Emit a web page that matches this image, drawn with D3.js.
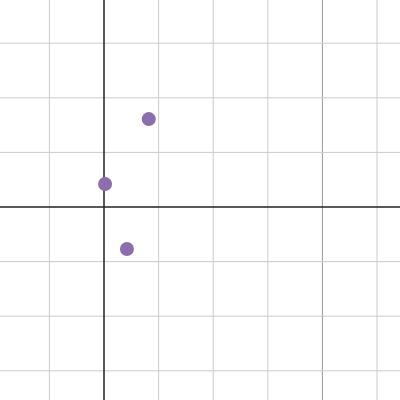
<!DOCTYPE html>
<html><head><meta charset="utf-8">
<script src="https://cdn.jsdelivr.net/npm/d3@7"></script>
<style>html,body{margin:0;padding:0;background:#fff}</style>
</head><body>
<svg id="c" width="400" height="400"></svg>
<script>
const xs = [0.82, 0.02, 0.42];
const ys = [1.61, 0.42, -0.77];
const gridX = [-1, 1, 2, 3, 4, 5];
const gridY = [-3, -2, -1, 1, 2, 3];
const majorX = [4];

const u = 54.6;
const x = d3.scaleLinear().domain([-104/u, 296/u]).range([0, 400]);
const y = d3.scaleLinear().domain([207/u, -193/u]).range([0, 400]);
const svg = d3.select("#c");

svg.selectAll(".gx").data(gridX).join("line")
  .attr("x1", d => x(d)).attr("x2", d => x(d)).attr("y1", 0).attr("y2", 400)
  .attr("stroke", d => majorX.includes(d) ? "#999" : "#ccc").attr("stroke-width", 1);
svg.selectAll(".gy").data(gridY).join("line")
  .attr("y1", d => y(d)).attr("y2", d => y(d)).attr("x1", 0).attr("x2", 400)
  .attr("stroke", "#ccc").attr("stroke-width", 1);

svg.append("line").attr("x1", x(0)).attr("x2", x(0)).attr("y1", 0).attr("y2", 400)
  .attr("stroke", "#222").attr("stroke-width", 1.5);
svg.append("line").attr("y1", y(0)).attr("y2", y(0)).attr("x1", 0).attr("x2", 400)
  .attr("stroke", "#222").attr("stroke-width", 1.5);

svg.selectAll(".pt").data(xs.map((v, i) => [v, ys[i]])).join("circle")
  .attr("cx", d => x(d[0])).attr("cy", d => y(d[1])).attr("r", 7)
  .attr("fill", "#8a6ead");
</script>
</body></html>
